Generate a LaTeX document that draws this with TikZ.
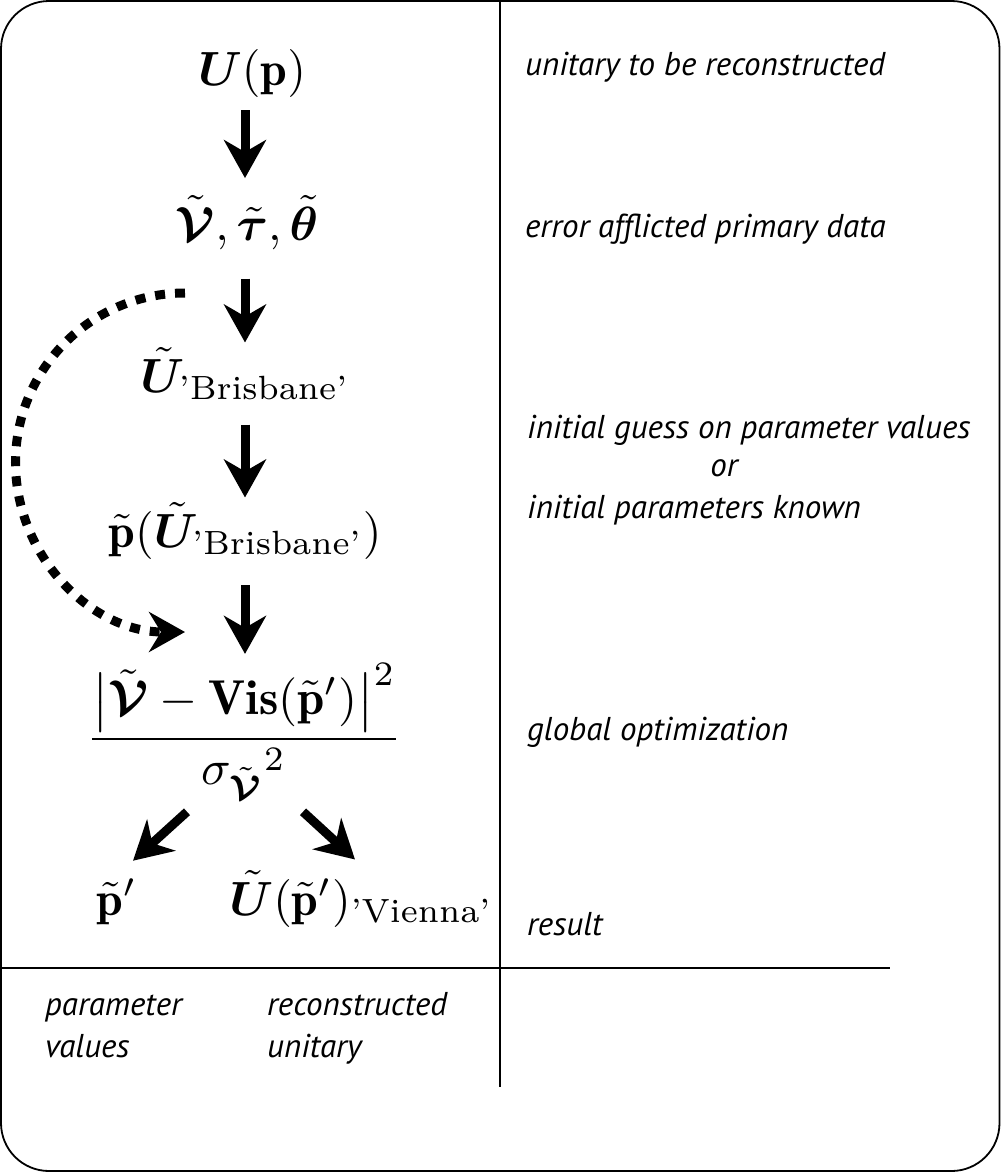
\documentclass[tikz,border=0pt]{standalone}
\usepackage{amsmath}
\usepackage{bm}
\usepackage{fontspec}
\newfontfamily\labelfont{PT Sans}
\usetikzlibrary{arrows.meta}
\newcommand{\mscaled}[1]{\scalebox{4.8}{$#1$}}
\newcommand{\dscaled}[1]{\scalebox{4.9}{$\displaystyle #1$}}
\begin{document}
\begin{tikzpicture}[x=1pt,y=-1pt,
  mathnode/.style={inner sep=0pt, anchor=base},
  note/.style={inner sep=0pt, anchor=base west, font=\labelfont\itshape\fontsize{33}{42}\selectfont},
  bigarrow/.style={line width=9pt, -{Stealth[length=38pt,width=42pt,inset=12pt]}},
  dotarrow/.style={line width=9pt, dash pattern=on 10pt off 10pt, -{Stealth[length=36pt,width=40pt,inset=12pt]}},
  rulestyle/.style={line width=1.8pt},
]
\useasboundingbox (0,0) rectangle (1002,1173);
% frame and dividers
\draw[rulestyle, rounded corners=48pt] (1,1) rectangle (999.5,1171);
\draw[rulestyle] (500,0) -- (500,1087);
\draw[rulestyle] (0,968) -- (890,968);

\coordinate (axis) at (245,0);

% math column
\node[mathnode] (Up) at (252,85) {\mscaled{\bm{U}(\mathbf{p})}};
\node[mathnode] (V) at (247,240) {\mscaled{\tilde{\bm{\mathcal{V}}},\tilde{\bm{\tau}},\tilde{\bm{\theta}}}};
\node[mathnode] (UB) at (245,392) {\mscaled{\tilde{\bm{U}}_{\text{’Brisbane’}}}};
\node[mathnode] (pU) at (245,547) {\mscaled{\tilde{\mathbf{p}}(\tilde{\bm{U}}_{\text{’Brisbane’}})}};
\node[mathnode] (frac) at (244,751) {\dscaled{\frac{\bigl|\tilde{\bm{\mathcal{V}}}-\mathbf{Vis}(\tilde{\mathbf{p}}')\bigr|^{2}}{{\sigma_{\tilde{\bm{\mathcal{V}}}}}^2}}};
\node[mathnode] (pp) at (117,915) {\mscaled{\tilde{\mathbf{p}}'}};
\node[mathnode] (UV) at (361,915) {\mscaled{\tilde{\bm{U}}(\tilde{\mathbf{p}}')_{\text{’Vienna’}}}};

% arrows
\draw[bigarrow, shorten <=13pt, shorten >=17pt] (Up.south -| axis) -- (V.north -| axis);
\draw[bigarrow, shorten <=29pt, shorten >=5pt] (V.south -| axis) -- (UB.north -| axis);
\draw[bigarrow, shorten <=25pt, shorten >=5pt] (UB.south -| axis) -- (pU.north -| axis);
\draw[bigarrow, shorten <=26pt, shorten >=9pt] (pU.south -| axis) -- (frac.north -| axis);
\draw[bigarrow] ([shift={(-57,12)}]frac.south) -- ([shift={(16,-18)}]pp.north);
\draw[bigarrow] ([shift={(59,12)}]frac.south) -- ([shift={(-6,-11)}]UV.north);

% dashed feedback arc
\coordinate (dstart) at (185,293);
\draw[dotarrow] (dstart) arc[start angle=270, end angle=90, radius=169.5];

% right column notes
\node[note] (n1) at (525,75) {unitary to be reconstructed};
\node[note] (n2) at (525,237) {error afflicted primary data};
\node[note] (n3) at (527,438) {initial guess on parameter values};
\node[note, anchor=base] (n4) at (724,476) {or};
\node[note] (n5) at (527,518) {initial parameters known};
\node[note] (n6) at (527,740) {global optimization};
\node[note] (n7) at (527,935) {result};

% bottom notes
\node[note, align=left] (b1) at (45,1057) {parameter\\values};
\node[note, align=left] (b2) at (267,1057) {reconstructed\\unitary};
\end{tikzpicture}
\end{document}
